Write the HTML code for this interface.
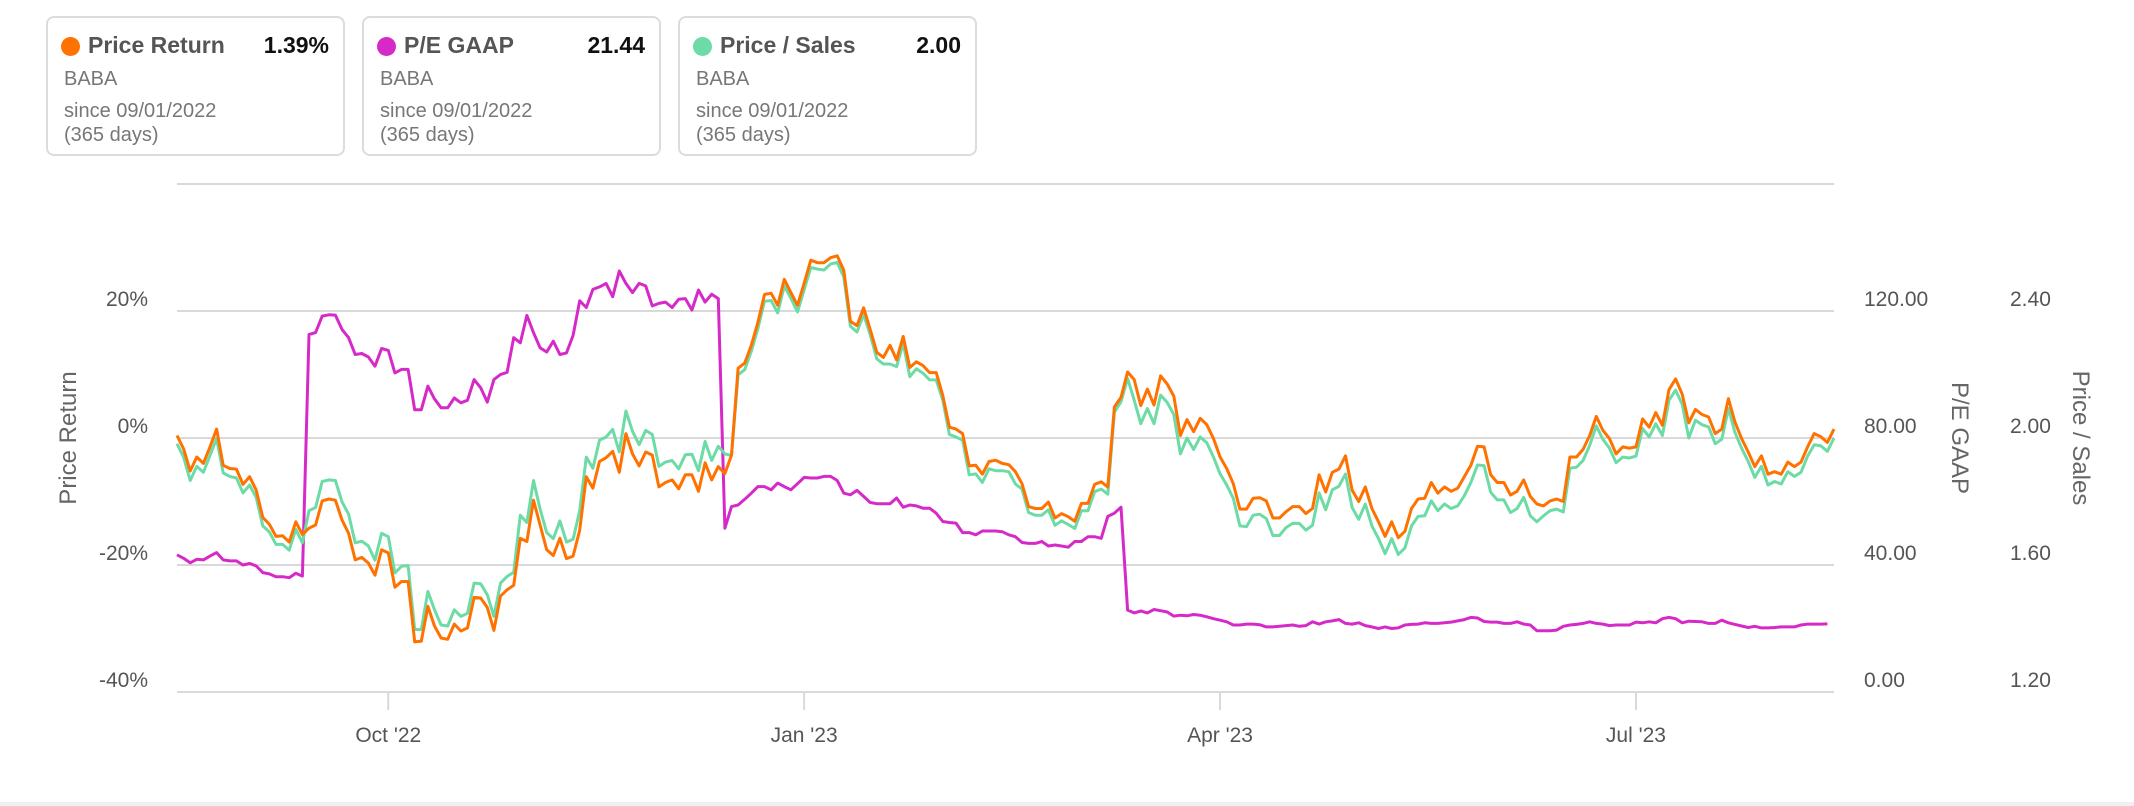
<!DOCTYPE html>
<html><head><meta charset="utf-8"><style>
body{margin:0;width:2134px;height:806px;background:#fff;font-family:"Liberation Sans",Arial,sans-serif;overflow:hidden;position:relative}
.card{position:absolute;top:16px;width:299px;height:140px;border:2px solid #dcdcdc;border-radius:8px;box-sizing:border-box}
.dot{position:absolute;left:13px;top:19px;width:19px;height:19px;border-radius:50%}
.ttl{position:absolute;left:40px;top:14px;font-size:23px;font-weight:bold;color:#555}
.val{position:absolute;right:14px;top:14px;font-size:23px;font-weight:bold;color:#111}
.sub{position:absolute;left:16px;font-size:20px;color:#777}
.foot{position:absolute;left:0;top:802px;width:2134px;height:4px;background:#f0f0f0}
</style></head><body>
<div class="card" style="left:46px">
<div class="dot" style="background:#ff7200"></div>
<div class="ttl">Price Return</div>
<div class="val">1.39%</div>
<div class="sub" style="top:50px">BABA</div>
<div class="sub" style="top:82px">since 09/01/2022</div>
<div class="sub" style="top:106px">(365 days)</div>
</div>
<div class="card" style="left:362px">
<div class="dot" style="background:#d62ac8"></div>
<div class="ttl">P/E GAAP</div>
<div class="val">21.44</div>
<div class="sub" style="top:50px">BABA</div>
<div class="sub" style="top:82px">since 09/01/2022</div>
<div class="sub" style="top:106px">(365 days)</div>
</div>
<div class="card" style="left:678px">
<div class="dot" style="background:#6cdba6"></div>
<div class="ttl">Price / Sales</div>
<div class="val">2.00</div>
<div class="sub" style="top:50px">BABA</div>
<div class="sub" style="top:82px">since 09/01/2022</div>
<div class="sub" style="top:106px">(365 days)</div>
</div>
<svg id="chart" width="2134" height="806" style="position:absolute;left:0;top:0" xmlns="http://www.w3.org/2000/svg"></svg>
<div class="foot"></div>
<script>
const priceReturn=[0.4,-1.7,-5.2,-3.0,-4.0,-1.4,1.4,-4.3,-4.8,-4.9,-7.3,-6.1,-8.2,-12.5,-13.6,-15.5,-15.4,-16.4,-13.2,-15.2,-14.2,-13.7,-9.9,-9.6,-9.8,-12.9,-15.0,-19.2,-18.8,-19.7,-21.6,-17.6,-18.1,-23.5,-22.6,-22.6,-32.1,-32.0,-26.5,-29.6,-31.5,-31.7,-29.3,
-30.4,-29.9,-25.1,-25.2,-26.7,-30.3,-24.9,-23.9,-23.2,-15.8,-16.3,-9.8,-13.7,-17.6,-18.5,-15.8,-19.0,-18.6,-14.5,-6.1,-7.9,-3.7,-3.1,-2.1,-5.4,0.7,-2.5,-4.4,-2.2,-2.7,-7.7,-7.0,-6.6,-8.0,-5.8,-5.8,-8.4,-3.9,-6.6,-4.5,-5.6,
-2.7,11.0,11.8,14.6,18.2,22.6,22.8,20.9,25.0,22.9,20.9,24.4,28.0,27.6,27.6,28.4,28.7,26.4,18.4,17.7,20.5,17.1,13.5,12.7,14.6,12.3,16.0,11.1,12.0,11.4,10.3,10.3,6.7,1.7,1.4,0.7,-4.4,-4.3,-5.7,-3.7,-3.5,-4.0,-4.2,-5.3,
-7.2,-10.8,-11.1,-11.1,-10.1,-12.6,-11.9,-12.4,-13.1,-10.3,-10.3,-7.3,-6.9,-7.7,4.9,6.4,10.4,9.2,5.1,7.7,5.2,9.8,8.5,6.6,0.4,2.9,1.0,3.1,2.1,-0.1,-3.0,-4.8,-7.2,-11.2,-11.2,-9.5,-9.4,-9.9,-12.6,-12.6,-11.6,-10.8,
-10.8,-11.9,-11.1,-5.8,-8.5,-5.4,-4.9,-2.8,-8.2,-10.0,-7.7,-11.1,-13.2,-15.5,-13.2,-15.7,-14.7,-11.1,-9.6,-9.5,-7.0,-8.7,-7.7,-8.4,-7.9,-6.1,-4.3,-1.3,-1.4,-5.8,-7.0,-7.0,-9.0,-8.4,-6.6,-9.2,-10.4,-10.7,-9.9,-9.6,-10.0,-3.0,
-3.0,-1.8,0.4,3.4,1.2,-0.1,-2.5,-1.4,-1.6,-1.4,3.0,1.7,4.0,2.0,7.6,9.3,6.9,2.4,4.5,3.7,3.3,0.7,1.4,6.2,2.5,-0.1,-2.2,-4.5,-2.8,-5.7,-5.3,-5.7,-3.8,-4.5,-3.8,-1.4,0.7,0.2,-0.7,1.4];
const peGaap=[43.2,42.1,40.7,41.8,41.6,42.8,43.9,41.6,41.3,41.3,40.0,40.5,39.7,37.6,37.2,36.3,36.3,36.0,37.4,36.5,112.6,113.2,118.4,118.8,118.7,114.2,111.6,106.3,106.6,105.5,102.6,108.2,107.6,100.5,101.6,101.6,88.9,88.9,96.3,92.3,89.5,89.5,92.6,
91.1,91.9,98.4,95.8,91.3,98.4,100.0,100.7,111.6,110.0,118.6,113.2,108.4,107.1,110.5,106.3,106.8,112.3,123.2,121.1,126.8,127.6,128.7,124.5,132.6,128.7,125.8,128.7,127.9,121.6,122.4,122.8,121.1,123.7,123.9,120.3,126.6,122.8,125.3,123.9,
51.6,58.4,58.9,60.7,62.6,64.7,64.7,63.7,65.8,64.7,63.7,65.6,67.6,67.4,67.4,67.9,67.9,66.6,62.6,62.1,63.5,61.6,59.7,59.3,59.3,59.3,61.1,58.2,58.9,58.6,57.9,57.9,56.3,53.7,53.4,53.2,50.2,50.2,49.5,50.7,50.7,50.7,50.5,49.5,
48.9,47.1,46.8,46.8,47.4,46.0,46.3,46.0,45.6,47.4,47.4,48.9,48.9,48.4,55.3,56.3,58.2,25.8,24.9,25.5,24.9,26.0,25.6,25.2,23.9,24.2,24.0,24.4,24.2,23.7,23.1,22.6,22.1,21.1,21.1,21.4,21.4,21.2,20.5,20.5,20.7,20.9,
21.1,20.7,20.9,22.1,21.4,22.1,22.4,22.8,21.6,21.4,21.8,20.9,20.5,20.0,20.5,20.0,20.2,21.1,21.3,21.4,21.8,21.6,21.6,21.8,22.0,22.4,22.8,23.5,23.3,22.2,22.0,22.0,21.6,21.6,22.1,21.4,21.1,19.3,19.3,19.3,19.5,20.7,
21.1,21.3,21.6,22.1,21.6,21.4,20.9,21.1,21.1,21.1,22.0,21.8,22.1,21.8,23.1,23.5,23.1,21.8,22.3,22.2,22.1,21.6,21.6,22.6,21.8,21.3,20.8,20.3,20.7,20.2,20.2,20.3,20.5,20.5,20.5,21.1,21.4,21.4,21.4,21.44];
const priceSales=[1.982,1.940,1.866,1.911,1.892,1.945,1.998,1.890,1.879,1.874,1.827,1.852,1.813,1.723,1.704,1.665,1.665,1.647,1.712,1.670,1.771,1.781,1.863,1.868,1.866,1.799,1.760,1.670,1.675,1.660,1.615,1.700,1.689,1.575,1.596,1.598,1.397,1.397,1.517,1.459,1.411,1.408,1.459,
1.438,1.448,1.543,1.541,1.506,1.438,1.543,1.564,1.577,1.757,1.734,1.866,1.776,1.702,1.683,1.739,1.672,1.681,1.771,1.940,1.905,1.993,2.003,2.027,1.956,2.085,2.021,1.979,2.024,2.011,1.911,1.924,1.929,1.903,1.947,1.949,1.897,1.989,1.929,1.974,1.950,
1.945,2.199,2.215,2.273,2.345,2.431,2.433,2.394,2.479,2.440,2.397,2.468,2.537,2.532,2.529,2.548,2.553,2.507,2.352,2.334,2.389,2.326,2.249,2.233,2.233,2.225,2.299,2.193,2.218,2.204,2.183,2.183,2.119,2.011,2.003,1.993,1.884,1.887,1.860,1.903,1.897,1.897,1.894,1.855,
1.839,1.765,1.757,1.757,1.774,1.725,1.739,1.728,1.715,1.771,1.771,1.831,1.839,1.823,2.082,2.114,2.188,2.119,2.045,2.093,2.045,2.135,2.112,2.074,1.950,2.000,1.964,2.003,1.985,1.940,1.887,1.852,1.810,1.723,1.721,1.757,1.760,1.746,1.693,1.693,1.718,1.731,
1.731,1.710,1.725,1.827,1.774,1.837,1.848,1.887,1.781,1.744,1.792,1.723,1.683,1.636,1.683,1.633,1.654,1.723,1.753,1.755,1.802,1.771,1.792,1.778,1.786,1.818,1.860,1.915,1.913,1.829,1.805,1.805,1.765,1.778,1.813,1.755,1.736,1.755,1.771,1.776,1.767,1.905,
1.908,1.929,1.977,2.038,1.996,1.968,1.922,1.940,1.937,1.943,2.030,2.003,2.045,2.008,2.119,2.151,2.106,2.000,2.056,2.042,2.035,1.982,1.996,2.093,2.017,1.968,1.926,1.876,1.911,1.852,1.863,1.855,1.894,1.879,1.892,1.943,1.979,1.975,1.958,2.000];
const xTickLabels=["Oct '22","Jan '23","Apr '23","Jul '23"];
const xTickIndex=[32,95,158,221];
const leftTicks=[-40,-20,0,20];
const leftTickLabels=["-40%","-20%","0%","20%"];
const peTicks=[0,40,80,120];
const peTickLabels=["0.00","40.00","80.00","120.00"];
const psTicks=[1.2,1.6,2.0,2.4];
const psTickLabels=["1.20","1.60","2.00","2.40"];

const NS="http://www.w3.org/2000/svg";
const svg=document.getElementById('chart');
const L=177,R=1834,T=184,B=692;
const N=priceReturn.length;
const xAt=i=>L+i*(R-L)/(N-1);
const yPct=v=>B-(v+40)/80*(B-T);
const yPE=v=>B-v/160*(B-T);
const yPS=v=>B-(v-1.2)/1.6*(B-T);
function mk(tag,attrs){const e=document.createElementNS(NS,tag);for(const k in attrs)e.setAttribute(k,attrs[k]);svg.appendChild(e);return e;}
[-40,-20,0,20,40].forEach(v=>{
 const g=mk('line',{x1:L,x2:R,y1:yPct(v),y2:yPct(v),stroke:'#d9d9d9','stroke-width':2});
 
 
});
function txt(x,y,s,anchor,size,extra){const t=mk('text',Object.assign({x:x,y:y,'text-anchor':anchor,'font-size':size,fill:'#555','font-family':'Liberation Sans, Arial, sans-serif'},extra||{}));t.textContent=s;return t;}
leftTicks.forEach((v,i)=>{
 const t=txt(148,yPct(v)-5,leftTickLabels[i],'end',21);
 
 
});
peTicks.forEach((v,i)=>{
 const t=txt(1864,yPE(v)-5,peTickLabels[i],'start',21);
 
 
});
psTicks.forEach((v,i)=>{
 const t=txt(2010,yPS(v)-5,psTickLabels[i],'start',21);
 
 
});
xTickIndex.forEach((idx,i)=>{
 const x=xAt(idx);
 const tk=mk('line',{x1:x,x2:x,y1:B,y2:B+18,stroke:'#d9d9d9','stroke-width':2});
 
 
 const t=txt(x,742,xTickLabels[i],'middle',21);
 
 
});
const t1=txt(0,0,'Price Return','middle',24,{transform:'translate(76,438) rotate(-90)',fill:'#666'});


const t2=txt(0,0,'P/E GAAP','middle',24,{transform:'translate(1952,438) rotate(90)',fill:'#666'});


const t3=txt(0,0,'Price / Sales','middle',24,{transform:'translate(2073,438) rotate(90)',fill:'#666'});


function series(arr,yf,color,name){
 const d=arr.map((v,i)=>(i?'L':'M')+xAt(i).toFixed(1)+' '+yf(v).toFixed(1)).join(' ');
 const p=mk('path',{d:d,fill:'none',stroke:color,'stroke-width':3,'stroke-linejoin':'round'});
 
 
}
series(peGaap,yPE,'#d62ac8','pe-gaap-line');
series(priceSales,yPS,'#6cdba6','price-sales-line');
series(priceReturn,yPct,'#ff7200','price-return-line');
</script>
</body></html>
